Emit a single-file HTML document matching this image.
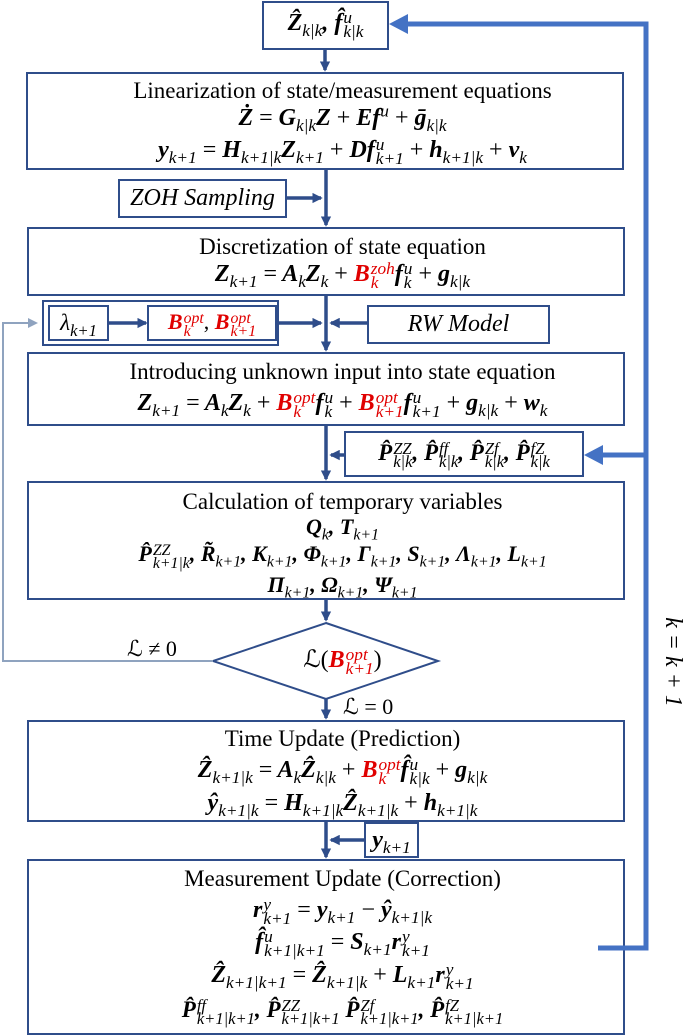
<!DOCTYPE html>
<html><head><meta charset="utf-8">
<style>
body{margin:0;background:#fff}
#c{position:relative;width:685px;height:1036px;overflow:hidden;font-family:"Liberation Serif",serif;color:#000}
.t{position:absolute;left:0;width:685px;text-align:center;white-space:nowrap;line-height:1}
.ttl{font-size:23px}
.eq{font-size:24px;font-weight:bold;font-style:italic}
.eq .n{font-weight:normal;font-style:normal}
.r{color:#e00000}
.ss{display:inline-block;vertical-align:-0.42em;line-height:0.8em;font-size:0.72em;text-align:left;font-weight:normal;margin-left:1px}
.ss i{display:block;font-style:italic}
.sb{font-size:0.72em;font-weight:normal;vertical-align:-0.35em;line-height:0}
.sp{font-size:0.72em;font-weight:normal;vertical-align:0.5em;line-height:0}
</style></head><body><div id="c">
<svg width="685" height="1036" style="position:absolute;left:0;top:0">
<defs>
<marker id="a" markerWidth="3" markerHeight="3" refX="2.5" refY="1.5" orient="auto" markerUnits="strokeWidth"><path d="M0,0L3,1.5L0,3z" fill="#2F4D8A"/></marker>
<marker id="g" markerWidth="5" markerHeight="5" refX="4" refY="2.5" orient="auto" markerUnits="strokeWidth"><path d="M0,0L5,2.5L0,5z" fill="#8FA3BF"/></marker>
</defs>
<g fill="none" stroke="#2F4D8A" stroke-width="2">
<rect x="263" y="2" width="125" height="47"/>
<rect x="27" y="73" width="596" height="96"/>
<rect x="119" y="180" width="167" height="37"/>
<rect x="28" y="228" width="596" height="67"/>
<rect x="43" y="301" width="235" height="44"/>
<rect x="49" y="306" width="59" height="34"/>
<rect x="148" y="306" width="128" height="34"/>
<rect x="368" y="306" width="181" height="37"/>
<rect x="28" y="353" width="596" height="72"/>
<rect x="345" y="432" width="238" height="44"/>
<rect x="28" y="482" width="596" height="117"/>
<polygon points="326,623 438,661 326,699 213,661"/>
<rect x="28" y="721" width="596" height="100"/>
<rect x="365" y="823" width="53" height="34"/>
<rect x="28" y="860" width="596" height="174"/>
</g>
<g stroke="#2F4D8A" stroke-width="3.5" fill="none">
<line x1="325" y1="49" x2="325" y2="70" marker-end="url(#a)"/>
<line x1="326" y1="169" x2="326" y2="225" marker-end="url(#a)"/>
<line x1="286" y1="198" x2="321" y2="198" marker-end="url(#a)"/>
<line x1="326" y1="295" x2="326" y2="350" marker-end="url(#a)"/>
<line x1="108" y1="323" x2="146" y2="323" marker-end="url(#a)"/>
<line x1="278" y1="323" x2="321" y2="323" marker-end="url(#a)"/>
<line x1="368" y1="323" x2="331" y2="323" marker-end="url(#a)"/>
<line x1="326" y1="425" x2="326" y2="479" marker-end="url(#a)"/>
<line x1="345" y1="455" x2="331" y2="455" marker-end="url(#a)"/>
<line x1="326" y1="599" x2="326" y2="620" marker-end="url(#a)"/>
<line x1="326" y1="699" x2="326" y2="718" marker-end="url(#a)"/>
<line x1="326" y1="821" x2="326" y2="857" marker-end="url(#a)"/>
<line x1="365" y1="840" x2="331" y2="840" marker-end="url(#a)"/>
</g>
<polyline points="213,661 3,661 3,323 36,323" fill="none" stroke="#8FA3BF" stroke-width="2" marker-end="url(#g)"/>
<g stroke="#4472C4" stroke-width="5" fill="none">
<polyline points="598,948 646,948 646,24 404,24"/>
<line x1="646" y1="455" x2="600" y2="455"/>
</g>
<path d="M389,24L408,14L408,34z" fill="#4472C4"/>
<path d="M584,455L603,445L603,465z" fill="#4472C4"/>
</svg>

<div class="t eq" style="left:263px;width:125px;top:11px">Ẑ<span class="sb">k|k</span>, <span>f̂</span><span class="ss"><i>u</i><i>k|k</i></span></div>

<div class="t ttl" style="top:79px">Linearization of state/measurement equations</div>
<div class="t eq" style="top:106px">Ż <span class="n">=</span> G<span class="sb">k|k</span>Z <span class="n">+</span> Ef<span class="sp">u</span> <span class="n">+</span> ḡ<span class="sb">k|k</span></div>
<div class="t eq" style="top:138px">y<span class="sb">k+1</span> <span class="n">=</span> H<span class="sb">k+1|k</span>Z<span class="sb">k+1</span> <span class="n">+</span> Df<span class="ss"><i>u</i><i>k+1</i></span> <span class="n">+</span> h<span class="sb">k+1|k</span> <span class="n">+</span> v<span class="sb">k</span></div>

<div class="t" style="left:119px;width:167px;top:186px;font-size:24px;font-style:italic">ZOH Sampling</div>

<div class="t ttl" style="top:235px">Discretization of state equation</div>
<div class="t eq" style="top:262px">Z<span class="sb">k+1</span> <span class="n">=</span> A<span class="sb">k</span>Z<span class="sb">k</span> <span class="n">+</span> <span class="r">B<span class="ss"><i>zoh</i><i>k</i></span></span>f<span class="ss"><i>u</i><i>k</i></span> <span class="n">+</span> g<span class="sb">k|k</span></div>

<div class="t" style="left:49px;width:59px;top:311px;font-size:23px;font-style:italic">λ<span class="sb">k+1</span></div>
<div class="t eq r" style="left:148px;width:128px;top:311px;font-size:22px">B<span class="ss"><i>opt</i><i>k</i></span><span style="color:#000" class="n">, </span>B<span class="ss"><i>opt</i><i>k+1</i></span></div>
<div class="t" style="left:368px;width:181px;top:312px;font-size:24px;font-style:italic">RW Model</div>

<div class="t ttl" style="top:360px">Introducing unknown input into state equation</div>
<div class="t eq" style="top:391px">Z<span class="sb">k+1</span> <span class="n">=</span> A<span class="sb">k</span>Z<span class="sb">k</span> <span class="n">+</span> <span class="r">B<span class="ss"><i>opt</i><i>k</i></span></span>f<span class="ss"><i>u</i><i>k</i></span> <span class="n">+</span> <span class="r">B<span class="ss"><i>opt</i><i>k+1</i></span></span>f<span class="ss"><i>u</i><i>k+1</i></span> <span class="n">+</span> g<span class="sb">k|k</span> <span class="n">+</span> w<span class="sb">k</span></div>

<div class="t eq" style="left:345px;width:238px;top:441px;font-size:23px">P̂<span class="ss"><i>ZZ</i><i>k|k</i></span>, P̂<span class="ss"><i>ff</i><i>k|k</i></span>, P̂<span class="ss"><i>Zf</i><i>k|k</i></span>, P̂<span class="ss"><i>fZ</i><i>k|k</i></span></div>

<div class="t ttl" style="top:490px">Calculation of temporary variables</div>
<div class="t eq" style="top:516px;font-size:22px">Q<span class="sb">k</span>,  T<span class="sb">k+1</span></div>
<div class="t eq" style="top:543px;font-size:22px">P̂<span class="ss"><i>ZZ</i><i>k+1|k</i></span>, R̃<span class="sb">k+1</span>, K<span class="sb">k+1</span>, Φ<span class="sb">k+1</span>, Γ<span class="sb">k+1</span>, S<span class="sb">k+1</span>, Λ<span class="sb">k+1</span>, L<span class="sb">k+1</span></div>
<div class="t eq" style="top:574px;font-size:22px">Π<span class="sb">k+1</span>, Ω<span class="sb">k+1</span>, Ψ<span class="sb">k+1</span></div>

<div class="t" style="left:127px;width:70px;top:638px;font-size:22px;text-align:left">ℒ ≠ 0</div>
<div class="t eq" style="top:648px"><span class="n">ℒ(</span><span class="r">B<span class="ss"><i>opt</i><i>k+1</i></span></span><span class="n">)</span></div>
<div class="t" style="left:343px;width:70px;top:696px;font-size:22px;text-align:left">ℒ = 0</div>

<div class="t ttl" style="top:727px">Time Update (Prediction)</div>
<div class="t eq" style="top:758px">Ẑ<span class="sb">k+1|k</span> <span class="n">=</span> A<span class="sb">k</span>Ẑ<span class="sb">k|k</span> <span class="n">+</span> <span class="r">B<span class="ss"><i>opt</i><i>k</i></span></span>f̂<span class="ss"><i>u</i><i>k|k</i></span> <span class="n">+</span> g<span class="sb">k|k</span></div>
<div class="t eq" style="top:791px">ŷ<span class="sb">k+1|k</span> <span class="n">=</span> H<span class="sb">k+1|k</span>Ẑ<span class="sb">k+1|k</span> <span class="n">+</span> h<span class="sb">k+1|k</span></div>

<div class="t eq" style="left:365px;width:53px;top:828px">y<span class="sb">k+1</span></div>

<div class="t ttl" style="top:867px">Measurement Update (Correction)</div>
<div class="t eq" style="top:898px">r<span class="ss"><i>y</i><i>k+1</i></span> <span class="n">=</span> y<span class="sb">k+1</span> <span class="n">−</span> ŷ<span class="sb">k+1|k</span></div>
<div class="t eq" style="top:930px">f̂<span class="ss"><i>u</i><i>k+1|k+1</i></span> <span class="n">=</span> S<span class="sb">k+1</span>r<span class="ss"><i>y</i><i>k+1</i></span></div>
<div class="t eq" style="top:963px">Ẑ<span class="sb">k+1|k+1</span> <span class="n">=</span> Ẑ<span class="sb">k+1|k</span> <span class="n">+</span> L<span class="sb">k+1</span>r<span class="ss"><i>y</i><i>k+1</i></span></div>
<div class="t eq" style="top:998px;font-size:23px">P̂<span class="ss"><i>ff</i><i>k+1|k+1</i></span>, P̂<span class="ss"><i>ZZ</i><i>k+1|k+1</i></span> P̂<span class="ss"><i>Zf</i><i>k+1|k+1</i></span>, P̂<span class="ss"><i>fZ</i><i>k+1|k+1</i></span></div>

<div style="position:absolute;left:618px;top:650px;width:110px;text-align:center;font-size:24px;font-style:italic;transform:rotate(90deg);white-space:nowrap;line-height:1">k = k + 1</div>
</div></body></html>
